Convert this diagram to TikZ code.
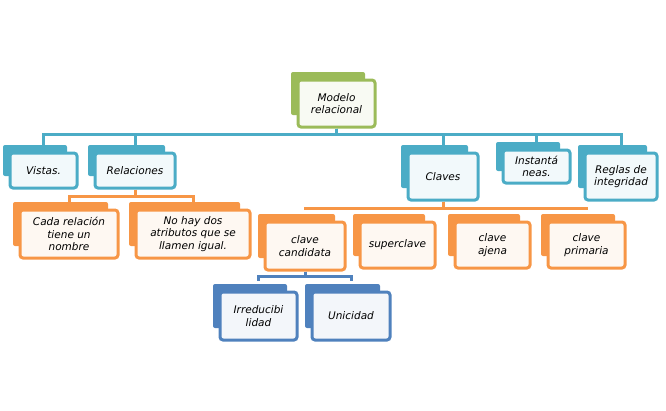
\documentclass[tikz,border=0pt]{standalone}
\usepackage{fontspec}
\setmainfont{DejaVu Sans}
\definecolor{cg}{HTML}{9BBB59}
\definecolor{ct}{HTML}{4BACC6}
\definecolor{co}{HTML}{F79646}
\definecolor{cb}{HTML}{4F81BD}
\newcommand\cbox[7]{%
  \fill[#2,rounded corners=2pt] (#3-7,#4-8) rectangle (#5-10,#6-12);
  \node[draw=#2,fill=#2!7,line width=3pt,rounded corners=3pt,inner sep=1pt,
        minimum width={(#5-#3)*1pt},minimum height={(#6-#4)*1pt},align=center,
        font=\itshape\fontsize{10.5}{12.5}\selectfont] (#1) at ({(#3+#5)/2},{(#4+#6)/2}) {#7};}
\tikzset{x=1pt,y=-1pt,conn/.style={line width=3pt,#1}}
\begin{document}
\begin{tikzpicture}
\useasboundingbox (0,0) rectangle (666,410);
\cbox{mod}{cg}{298}{80}{375}{127}{Modelo\\relacional}
\cbox{vis}{ct}{10}{153}{77}{188}{Vistas.}
\cbox{rel}{ct}{95}{153}{175}{188}{Relaciones}
\cbox{cla}{ct}{408}{153}{478}{200}{Claves}
\cbox{ins}{ct}{503}{150}{570}{183}{Instantá\\neas.}
\cbox{reg}{ct}{585}{153}{657}{200}{Reglas de\\integridad}
\cbox{cad}{co}{20}{210}{118}{258}{Cada relación\\tiene un\\nombre}
\cbox{noh}{co}{136}{210}{250}{258}{No hay dos\\atributos que se\\llamen igual.}
\cbox{cc}{co}{265}{222}{345}{270}{clave\\candidata}
\cbox{sup}{co}{360}{222}{435}{268}{superclave}
\cbox{aje}{co}{455}{222}{530}{268}{clave\\ajena}
\cbox{pri}{co}{548}{222}{625}{268}{clave\\primaria}
\cbox{irr}{cb}{220}{292}{297}{340}{Irreducibi\\lidad}
\cbox{uni}{cb}{312}{292}{390}{340}{Unicidad}
\foreach \c in {vis,rel,cla,ins,reg}
  \draw[conn=ct] (mod.south) -- ++(0,6) -| ([yshift=7pt]\c.north);
\foreach \c in {cad,noh}
  \draw[conn=co] (rel.south) -- ++(0,7) -| ([yshift=7pt]\c.north);
\foreach \c in {cc,sup,aje,pri}
  \draw[conn=co] (cla.south) -- ++(0,7) -| ([yshift=14pt]\c.north);
\foreach \c in {irr,uni}
  \draw[conn=cb] (cc.south) -- ++(0,5) -| ([yshift=10pt]\c.north);
\end{tikzpicture}
\end{document}
